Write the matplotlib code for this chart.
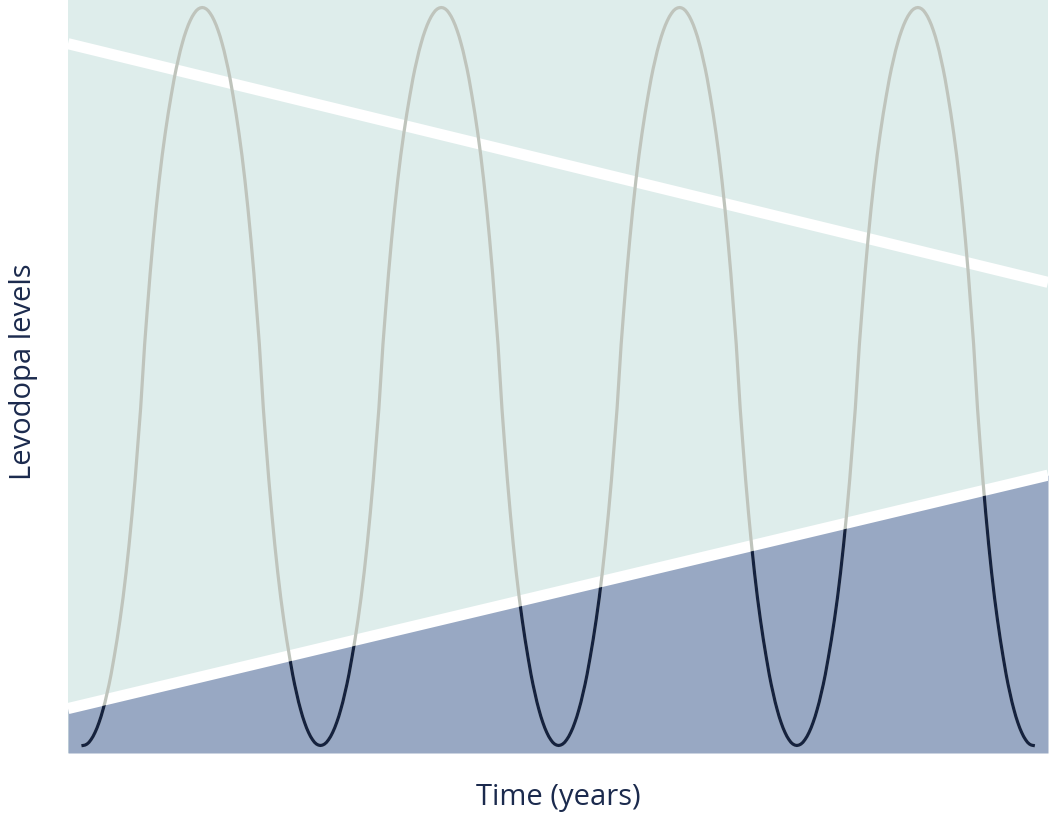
import matplotlib
matplotlib.use("Agg")
import matplotlib.pyplot as plt
import numpy as np
from matplotlib.patches import Polygon
from matplotlib.transforms import offset_copy

plt.rcParams['font.family'] = ['Open Sans', 'DejaVu Sans']

# values: time on a 0-10 scale, level on a 0-100 scale
trough_times = [0.153, 2.576, 5.006, 7.437, 9.850]
peak_times = [1.370, 3.810, 6.241, 8.672]
trough_level = 1.0
peak_level = 99.0

# shape of one swing from trough to peak, as fractions of its time span and height
swing_time_frac = [0, .0168, .0336, .0504, .0672, .084, .1008, .1176, .1345, .1513, .1681,
                   .1849, .2017, .2185, .2353, .2605, .2857, .3109, .3361, .3613, .3866, .4118,
                   .4370, .4622, .4832, .5, .5168, .5378, .5630, .5882, .6134, .6387, .6639,
                   .6891, .7143, .7395, .7647, .7815, .7983, .8151, .8319, .8487, .8655, .8824,
                   .8992, .9160, .9328, .9496, .9664, .9832, 1]
swing_level_frac = [0, .0005, .0019, .0043, .0079, .0122, .0176, .0238, .0312, .0393, .0488,
                    .0589, .0705, .0827, .0962, .1192, .1436, .1707, .2005, .2344, .2724, .3144,
                    .3604, .4119, .4566, .5, .5434, .5881, .6396, .6856, .7276, .7656, .7995,
                    .8293, .8564, .8808, .9038, .9173, .9295, .9411, .9512, .9607, .9688, .9762,
                    .9824, .9878, .9921, .9957, .9981, .9995, 1]

# therapeutic window edges
window_time = [0, 10]
floor_level = [5.9, 36.9]      # below: "off" zone
ceiling_level = [94.2, 62.5]   # above: dyskinesia zone

# colours
bg = '#deedeb'
off_fill = '#98a8c3'
navy = '#15223f'
grey = '#bfc4bc'
text_col = '#1b2a4d'

# join the swings trough -> peak -> trough ...
ext_t, ext_l = [], []
for i, tt in enumerate(trough_times):
    ext_t.append(tt); ext_l.append(trough_level)
    if i < len(peak_times):
        ext_t.append(peak_times[i]); ext_l.append(peak_level)
f = np.array(swing_time_frac)
g = np.array(swing_level_frac)
curve_t, curve_l = [], []
for k in range(len(ext_t) - 1):
    a, b = ext_t[k], ext_t[k + 1]
    la, lb = ext_l[k], ext_l[k + 1]
    seg_t = a + f * (b - a)
    seg_l = la + g * (lb - la)
    if k > 0:
        seg_t, seg_l = seg_t[1:], seg_l[1:]
    curve_t.extend(seg_t); curve_l.extend(seg_l)

fig = plt.figure(figsize=(10.5, 8.16), dpi=100)
ax = fig.add_axes([68 / 1050, 63 / 816, 980 / 1050, 753 / 816])
ax.set_facecolor(bg)
ax.set_xlim(0, 10)
ax.set_ylim(0, 100)
for s in ax.spines.values():
    s.set_visible(False)
ax.set_xticks([]); ax.set_yticks([])

ax.fill_between(window_time, 0, floor_level, color=off_fill, lw=0, zorder=1)
band = 8.0
ax.plot(window_time, floor_level, color='white', lw=band, solid_capstyle='butt', zorder=2)
ax.plot(window_time, ceiling_level, color='white', lw=band, solid_capstyle='butt', zorder=2)

ax.plot(curve_t, curve_l, color=grey, lw=2.3, zorder=3, solid_joinstyle='round')
dark, = ax.plot(curve_t, curve_l, color=navy, lw=2.3, zorder=4, solid_joinstyle='round')
clip = Polygon([[window_time[0], -5], [window_time[0], floor_level[0]],
                [window_time[1], floor_level[1]], [window_time[1], -5]],
               closed=True, transform=offset_copy(ax.transData, fig=fig, y=-band * 100 / 72 / 2, units='dots'))
dark.set_clip_path(clip)

fig.text(558 / 1050, 1 - 797 / 816, 'Time (years)', ha='center', va='center', fontsize=21, color=text_col)
fig.text(24 / 1050, 1 - 372 / 816, 'Levodopa levels', ha='center', va='center', rotation=90,
         fontsize=21, color=text_col)

fig.savefig('out.png', dpi=100, facecolor='white')
